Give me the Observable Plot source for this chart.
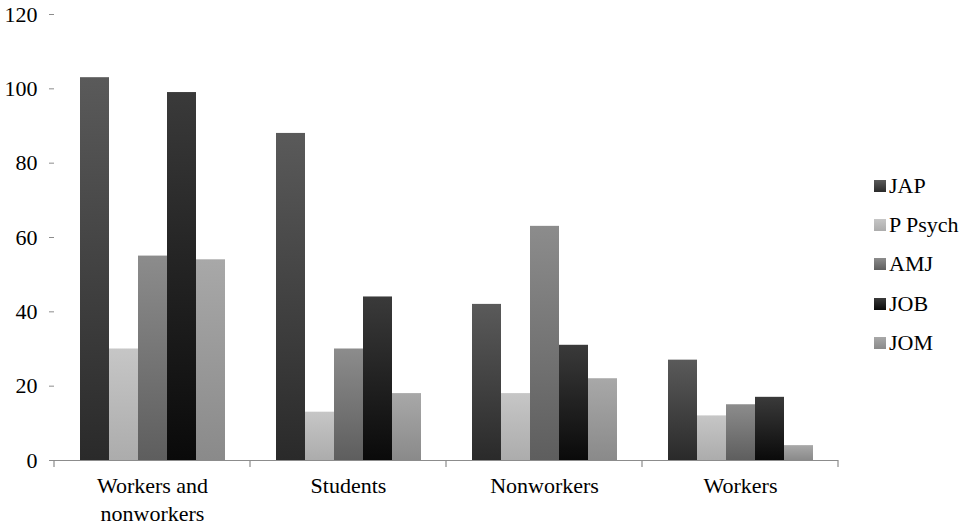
<!DOCTYPE html>
<html>
<head>
<meta charset="utf-8">
<script src="https://cdn.jsdelivr.net/npm/d3@7"></script>
<script src="https://cdn.jsdelivr.net/npm/@observablehq/plot@0.6"></script>
<style>
  html, body { margin: 0; padding: 0; background: white; overflow: hidden; }
  #wrap { position: relative; width: 966px; height: 527px; }
  #legend { position: absolute; left: 874px; top: 166px; font-family: "Liberation Serif", Tinos, "Times New Roman", Times, "DejaVu Serif", serif; font-size: 22px; color: #000; }
  .row { display: flex; align-items: center; height: 39.4px; }
  .row svg { width: 12px; height: 12px; margin-right: 3px; flex: none; }
  #chart svg, #chart svg text { font-family: "Liberation Serif", Tinos, "Times New Roman", Times, "DejaVu Serif", serif !important; }
</style>
</head>
<body>
<svg width="0" height="0" style="position:absolute">
  <defs id="defs"></defs>
</svg>
<div id="wrap">
  <div id="chart"></div>
  <div id="legend"></div>
</div>
<script>
const categories = ["Workers and nonworkers", "Students", "Nonworkers", "Workers"];
const catLabels = ["Workers and\nnonworkers", "Students", "Nonworkers", "Workers"];
const series = ["JAP", "P Psych", "AMJ", "JOB", "JOM"];
const jap    = [103, 88, 42, 27];
const ppsych = [30, 13, 18, 12];
const amj    = [55, 30, 63, 15];
const job    = [99, 44, 31, 17];
const jom    = [54, 18, 22, 4];
const yTicks = [0, 20, 40, 60, 80, 100, 120];

// gradient colours (top, bottom) per series
const gradTop    = ["#5a5a5a", "#c6c6c6", "#8c8c8c", "#3a3a3a", "#a8a8a8"];
const gradBottom = ["#2a2a2a", "#acacac", "#5e5e5e", "#0a0a0a", "#8a8a8a"];

const defs = d3.select("#defs");
series.forEach((s, i) => {
  const g = defs.append("linearGradient").attr("id", "g" + i)
    .attr("x1", 0).attr("y1", 0).attr("x2", 0).attr("y2", 1);
  g.append("stop").attr("offset", "0%").attr("stop-color", gradTop[i]);
  g.append("stop").attr("offset", "100%").attr("stop-color", gradBottom[i]);
});
const fills = series.map((s, i) => `url(#g${i})`);

const valuesBySeries = [jap, ppsych, amj, job, jom];
const data = [];
categories.forEach((c, ci) => {
  series.forEach((s, si) => {
    data.push({category: c, series: s, value: valuesBySeries[si][ci]});
  });
});

const plot = Plot.plot({
  width: 966,
  height: 527,
  marginLeft: 53,
  marginRight: 128,
  marginTop: 14,
  marginBottom: 67,
  style: {fontSize: "22px", color: "#000", background: "white"},
  fx: {domain: categories, padding: 0, axis: null},
  x: {domain: series, paddingInner: 0, paddingOuter: 0.77, axis: null},
  y: {domain: [0, 120], axis: null},
  color: {type: "ordinal", domain: series, range: fills},
  marks: [
    Plot.barY(data, {fx: "category", x: "series", y: "value", fill: "series"}),
    Plot.ruleY([0], {stroke: "#8c8c8c", strokeWidth: 1.2}),
    Plot.axisY({ticks: yTicks, tickSize: 5, tickPadding: 12, stroke: "#8c8c8c", fill: "#000", line: true, label: null, tickFormat: d => String(d)}),
    Plot.text(categories, {fx: d => d, text: (d, i) => catLabels[i], frameAnchor: "bottom", lineAnchor: "top", dy: 13, lineHeight: 1.25, fill: "#000"})
  ]
});

document.getElementById("chart").appendChild(plot);

// boundary tick marks below the x axis, positioned from Plot's own scales
const fxS = plot.scale("fx");
const yS = plot.scale("y");
const y0 = yS.apply(0);
const edges = categories.map(c => fxS.apply(c)).concat([fxS.apply(categories[categories.length - 1]) + fxS.bandwidth]);
d3.select(plot).append("g")
  .attr("stroke", "#8c8c8c").attr("stroke-width", 1.2)
  .selectAll("line").data(edges).join("line")
  .attr("x1", d => d).attr("x2", d => d)
  .attr("y1", y0).attr("y2", y0 + 7);

// legend
const legend = d3.select("#legend");
series.forEach((s, i) => {
  const row = legend.append("div").attr("class", "row");
  row.append("svg").attr("viewBox", "0 0 12 12")
    .append("rect").attr("width", 12).attr("height", 12).attr("fill", fills[i]);
  row.append("span").text(s);
});
</script>
</body>
</html>
